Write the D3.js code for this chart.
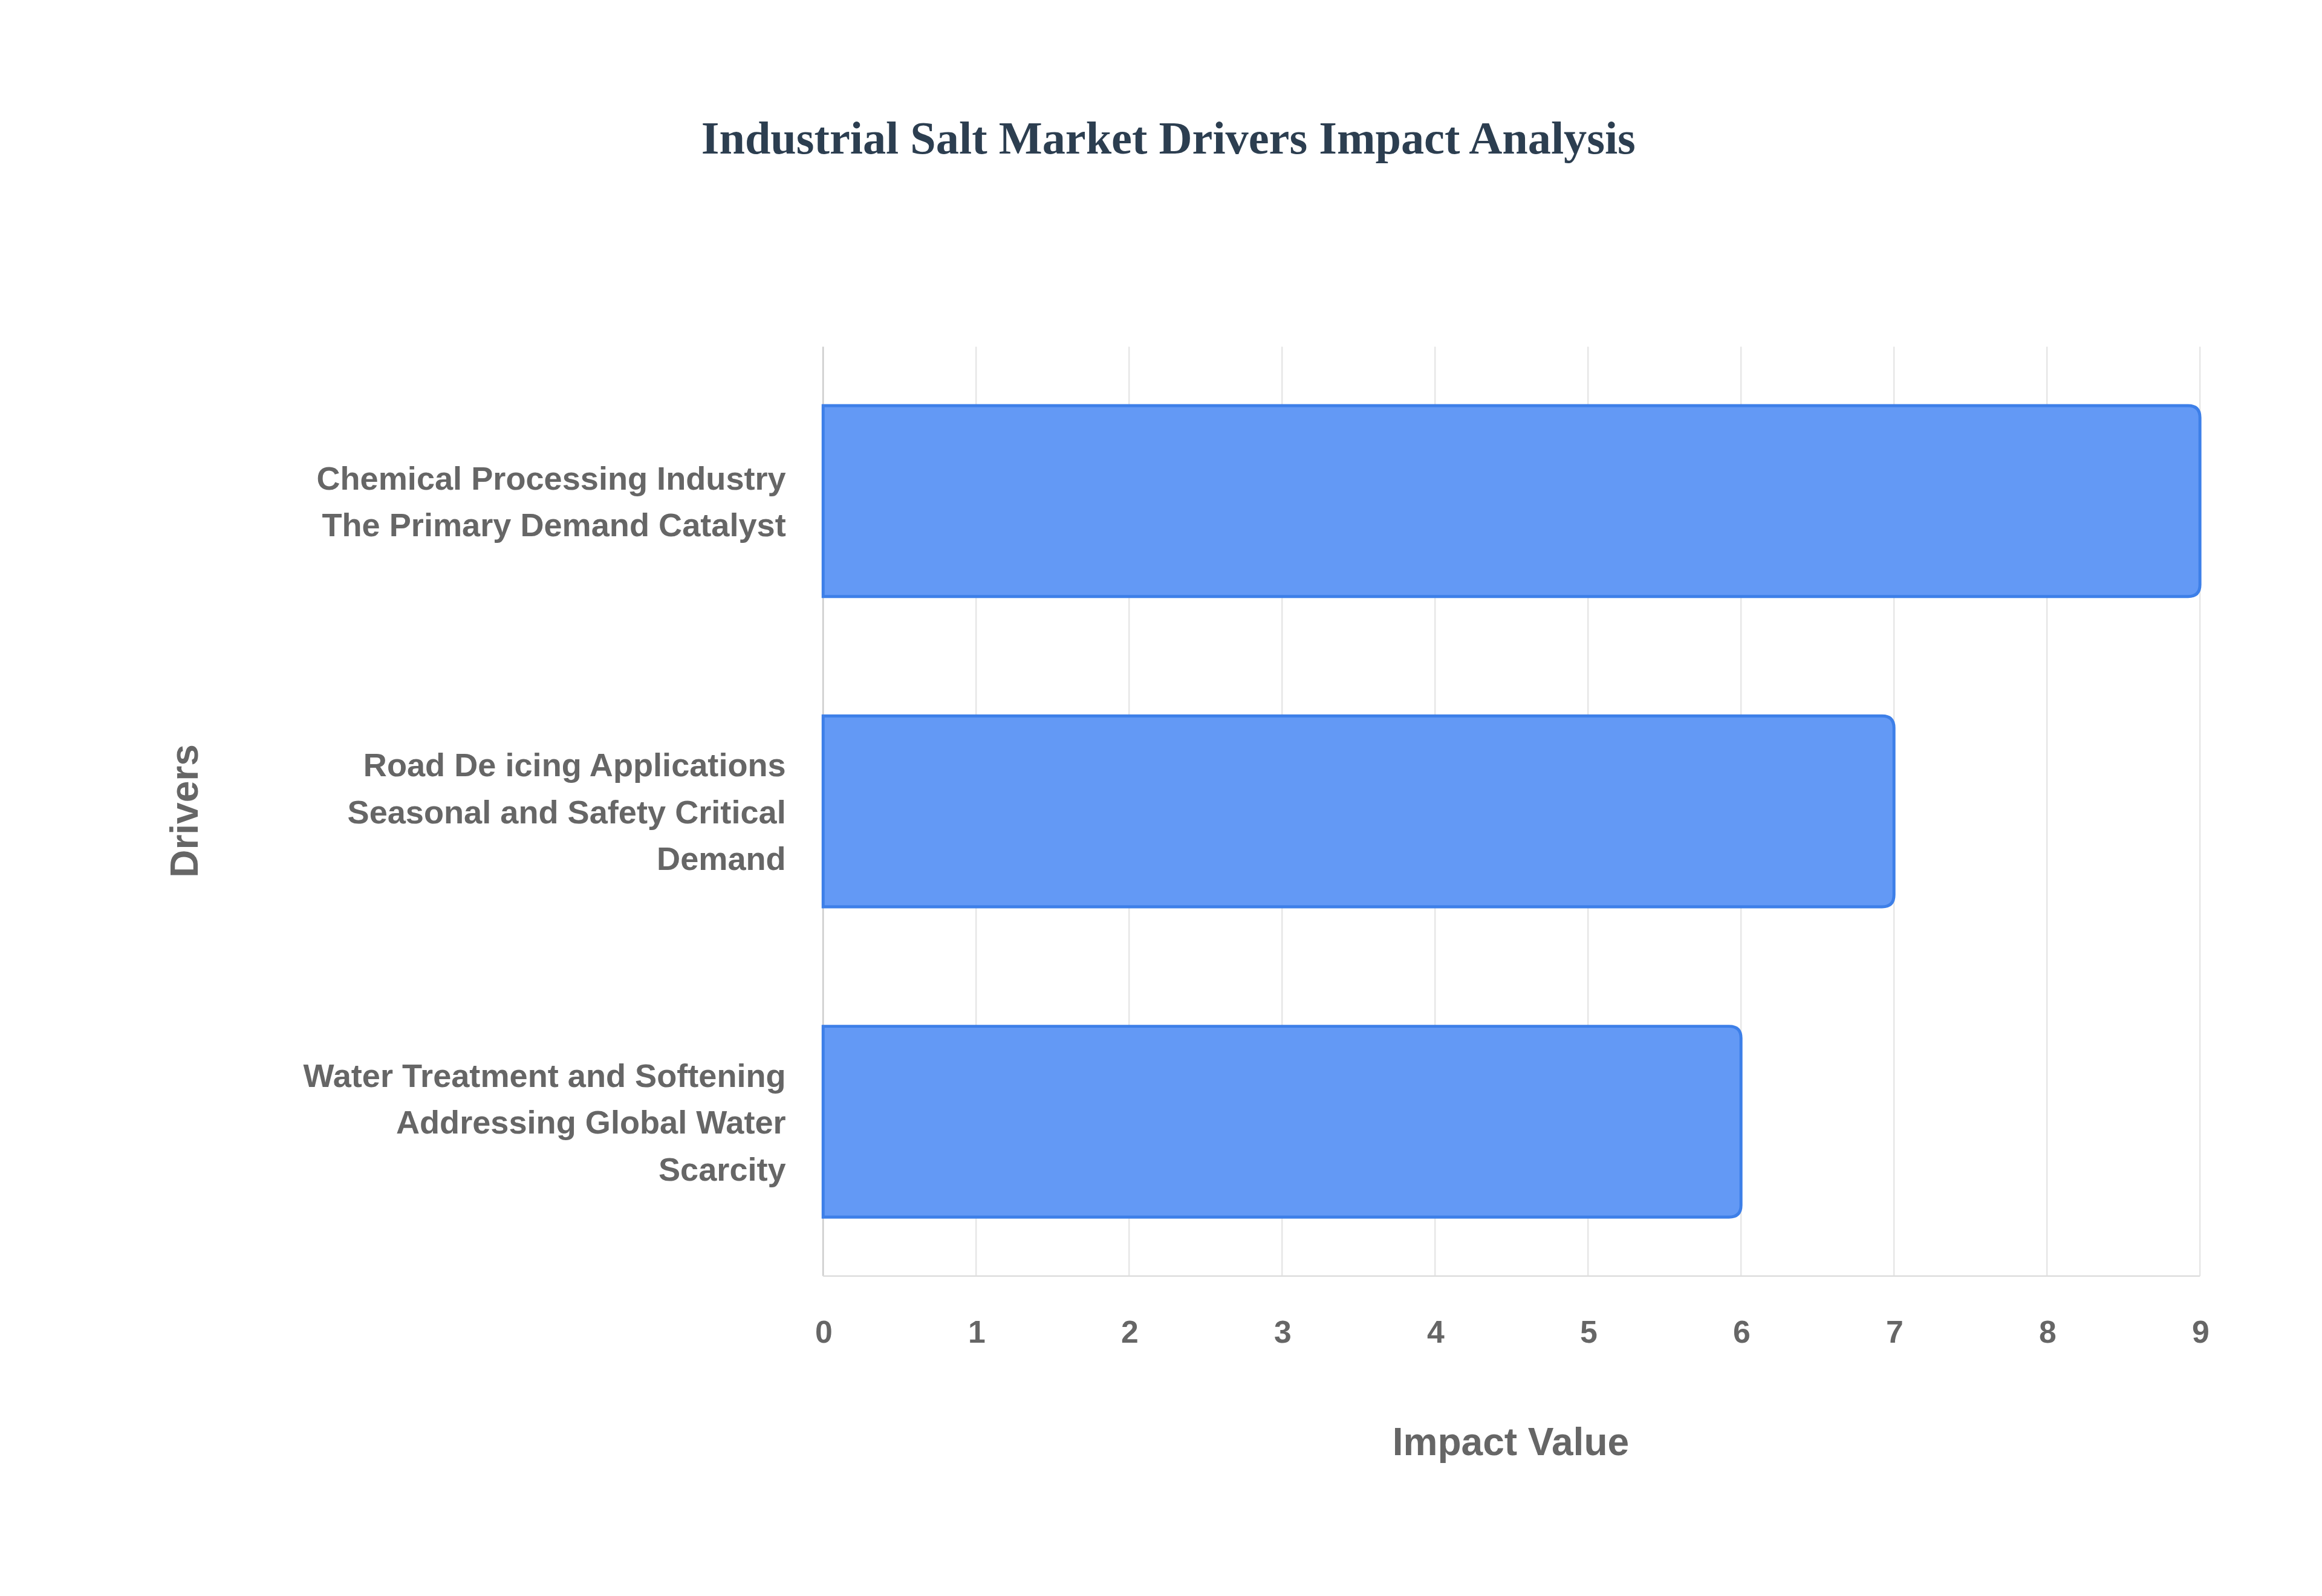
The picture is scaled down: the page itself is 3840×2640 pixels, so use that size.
<!DOCTYPE html>
<html><head><meta charset="utf-8">
<script src="https://cdn.jsdelivr.net/npm/d3@7"></script>
<style>body{margin:0;background:#fff}</style>
</head><body><div id="chart"></div>
<script>
var drivers = [
  ["Chemical Processing Industry", "The Primary Demand Catalyst"],
  ["Road De icing Applications", "Seasonal and Safety Critical", "Demand"],
  ["Water Treatment and Softening", "Addressing Global Water", "Scarcity"]
];
var impact = [9, 7, 6];
var xTicks = [0, 1, 2, 3, 4, 5, 6, 7, 8, 9];

var W = 1560, H = 1072.5;
var margin = {top: 233, right: 82, bottom: 215, left: 553};
var width = W - margin.left - margin.right;
var height = H - margin.top - margin.bottom;

var svg = d3.select("#chart").append("svg")
  .attr("width", 3840).attr("height", 2640)
  .attr("viewBox", "0 0 " + W + " " + H);

var font = "'Liberation Sans', Arial, sans-serif";

svg.append("text")
  .attr("x", 785).attr("y", 103)
  .attr("text-anchor", "middle")
  .attr("font-family", "'Liberation Serif', 'Times New Roman', serif")
  .attr("font-weight", "bold").attr("font-size", 31)
  .attr("fill", "#2c3e50")
  .text("Industrial Salt Market Drivers Impact Analysis");

var g = svg.append("g").attr("transform", "translate(" + margin.left + "," + margin.top + ")");

var x = d3.scaleLinear().domain([0, 9]).range([0, width]);
var y = d3.scaleBand().domain(d3.range(drivers.length)).range([0, height]).paddingInner(0.385).paddingOuter(0.19);

// grid
g.selectAll(".grid").data(xTicks).enter().append("line")
  .attr("x1", d => x(d)).attr("x2", d => x(d))
  .attr("y1", 0).attr("y2", height)
  .attr("stroke", d => d === 0 ? "#ccc" : "#e6e6e6").attr("stroke-width", 1);

g.append("line").attr("x1", 0).attr("x2", width).attr("y1", height).attr("y2", height)
  .attr("stroke", "#ddd");

var r = 8;
g.selectAll(".bar").data(impact).enter().append("path")
  .attr("d", function(d, i) {
    var w = x(d), y0 = y(i), h = y.bandwidth();
    return "M0," + y0 + "H" + (w - r) + "Q" + w + "," + y0 + " " + w + "," + (y0 + r) +
      "V" + (y0 + h - r) + "Q" + w + "," + (y0 + h) + " " + (w - r) + "," + (y0 + h) + "H0Z";
  })
  .attr("fill", "#6399f5").attr("stroke", "#3d7fe8").attr("stroke-width", 2);

var xAxis = d3.axisBottom(x).tickValues(xTicks).tickSize(0).tickPadding(30);
var ax = g.append("g").attr("transform", "translate(0," + height + ")").call(xAxis);
ax.select(".domain").remove();
ax.selectAll("text").attr("font-family", font).attr("font-weight", "bold")
  .attr("font-size", 21).attr("fill", "#666");

// category labels
drivers.forEach(function(lines, i) {
  var cy = y(i) + y.bandwidth() / 2;
  var t = g.append("text").attr("text-anchor", "end")
    .attr("font-family", font).attr("font-weight", "bold")
    .attr("font-size", 22).attr("fill", "#666");
  var lh = 31.5, start = cy - (lines.length - 1) * lh / 2 + 8;
  lines.forEach(function(l, j) {
    t.append("tspan").attr("x", -25).attr("y", start + j * lh).text(l);
  });
});

svg.append("text").attr("x", 1015).attr("y", 978).attr("text-anchor", "middle")
  .attr("font-family", font).attr("font-weight", "bold").attr("font-size", 26)
  .attr("fill", "#666").text("Impact Value");

svg.append("text").attr("transform", "translate(133,545) rotate(-90)")
  .attr("text-anchor", "middle")
  .attr("font-family", font).attr("font-weight", "bold").attr("font-size", 26)
  .attr("fill", "#666").text("Drivers");
</script></body></html>
